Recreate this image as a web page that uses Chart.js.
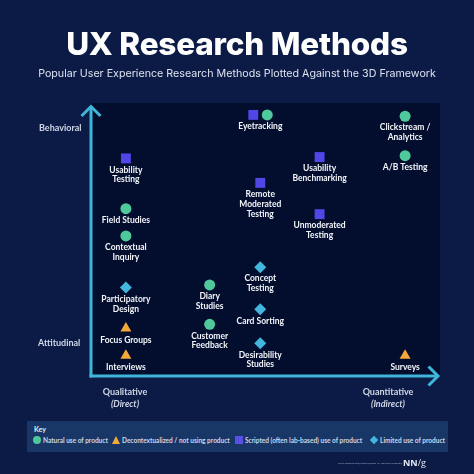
<!DOCTYPE html>
<html>
<head>
<meta charset="utf-8">
<script src="https://cdn.jsdelivr.net/npm/chart.js@4.4.1/dist/chart.umd.min.js"></script>
<style>
  html, body { margin: 0; padding: 0; }
  body { width: 474px; height: 474px; background: #0b1b46; position: relative; overflow: hidden; font-family: Lato, "Noto Sans", sans-serif; }
  #c { position: absolute; left: 0; top: 0; }
  .abs { position: absolute; white-space: nowrap; }
  #title { left: 0; width: 474px; top: 24px; text-align: center; font-family: Inter, sans-serif; font-weight: 800; font-size: 31.5px; color: #ffffff; line-height: 40px; letter-spacing: -0.2px; }
  #subtitle { left: 0; width: 474px; top: 65.5px; text-align: center; font-family: Inter, sans-serif; font-weight: 400; font-size: 10.7px; color: #dde2ee; line-height: 16px; }
  .axl { font-weight: 700; font-size: 9px; color: #cfd6e5; line-height: 12px; }
  .axc { text-align: center; width: 80px; }
  #key { left: 27px; top: 421px; width: 421px; height: 31px; background: #193766; }
  .keyt { font-size: 6.5px; color: #cdd5e6; line-height: 9px; font-weight: 400; }
  .kicon { position: absolute; }
</style>
</head>
<body>
<canvas id="c" width="474" height="474"></canvas>
<div id="title" class="abs">UX Research Methods</div>
<div id="subtitle" class="abs">Popular User Experience Research Methods Plotted Against the 3D Framework</div>

<div class="abs axl" style="left:39px; top:122px;">Behavioral</div>
<div class="abs axl" style="left:38px; top:337px;">Attitudinal</div>
<div class="abs axl axc" style="left:85px; top:386px;">Qualitative<br><i>(Direct)</i></div>
<div class="abs axl axc" style="left:348px; top:386px;">Quantitative<br><i>(Indirect)</i></div>

<div id="key" class="abs">
  <div class="abs" style="left:7px; top:4px; font-size:7px; font-weight:700; color:#e8ecf4; line-height:9px;">Key</div>
  <div class="kicon" style="left:6px; top:15px; width:8px; height:8px; border-radius:50%; background:#4fc99b;"></div>
  <div class="abs keyt" style="left:16px; top:14.5px; font-weight:700;">Natural use of product</div>
  <div class="kicon" style="left:85px; top:15px; width:0; height:0; border-left:4.5px solid transparent; border-right:4.5px solid transparent; border-bottom:8px solid #f4a83a;"></div>
  <div class="abs keyt" style="left:95px; top:14.5px; font-weight:700;">Decontextualized / not using product</div>
  <div class="kicon" style="left:208px; top:15px; width:8px; height:8px; background:#5a50e6;"></div>
  <div class="abs keyt" style="left:218px; top:14.5px; font-weight:700;">Scripted (often lab-based) use of product</div>
  <div class="kicon" style="left:344px; top:15.5px; width:6px; height:6px; background:#42b6dc; transform:rotate(45deg);"></div>
  <div class="abs keyt" style="left:353px; top:14.5px; font-weight:700;">Limited use of product</div>
</div>

<div class="abs" style="left:338px; top:461px; font-size:2.6px; color:#9aa5bd; line-height:4px;">www.nngroup.com/articles/guide-ux-research-methods/</div>
<div class="abs" style="left:403px; top:457px; font-size:9px; color:#e6eaf2; line-height:11px; font-weight:700; font-family:'Open Sans', sans-serif;">NN<span style="font-weight:400;">/g</span></div>

<script>
// ---- Data (scale 0-100 on both axes) ----
const naturalNames = ["Field Studies", "Contextual\nInquiry", "Diary\nStudies", "Customer\nFeedback", "Eyetracking", "Clickstream /\nAnalytics", "A/B Testing"];
const naturalX = [10, 10, 34, 34, 50.5, 90, 90];
const naturalY = [61.5, 51.5, 33.5, 19, 96, 95.5, 81];

const decontextNames = ["Focus Groups", "Interviews", "Surveys"];
const decontextX = [10, 10, 90];
const decontextY = [17.5, 7.5, 7.5];

const scriptedNames = ["Usability\nTesting", "Eyetracking", "Remote\nModerated\nTesting", "Usability\nBenchmarking", "Unmoderated\nTesting"];
const scriptedX = [10, 46.5, 48.5, 65.5, 65.5];
const scriptedY = [80, 96, 71, 80.5, 59.5];

const limitedNames = ["Participatory\nDesign", "Concept\nTesting", "Card Sorting", "Desirability\nStudies"];
const limitedX = [10, 48.5, 48.5, 48.5];
const limitedY = [32.5, 40, 24.5, 12];

function pts(xs, ys, names) { return xs.map((x, i) => ({ x: x, y: ys[i], name: names[i] })); }

const panelPlugin = {
  id: 'panel',
  beforeDatasetsDraw(chart) {
    const a = chart.chartArea;
    const ctx = chart.ctx;
    ctx.save();
    ctx.fillStyle = '#030e2e';
    ctx.fillRect(a.left, a.top - 1, a.right - a.left, a.bottom - a.top + 1);
    ctx.strokeStyle = '#3fb5d9';
    ctx.lineWidth = 3;
    ctx.lineCap = 'butt';
    ctx.lineJoin = 'miter';
    // y axis
    ctx.beginPath();
    ctx.moveTo(a.left, a.bottom + 1.5);
    ctx.lineTo(a.left, a.top + 2);
    ctx.stroke();
    ctx.beginPath();
    ctx.moveTo(a.left - 9.5, a.top + 12);
    ctx.lineTo(a.left, a.top + 2.5);
    ctx.lineTo(a.left + 9.5, a.top + 12);
    ctx.stroke();
    // x axis
    ctx.beginPath();
    ctx.moveTo(a.left - 1.5, a.bottom);
    ctx.lineTo(a.right - 2, a.bottom);
    ctx.stroke();
    ctx.beginPath();
    ctx.moveTo(a.right - 11.5, a.bottom - 9.5);
    ctx.lineTo(a.right - 2, a.bottom);
    ctx.lineTo(a.right - 11.5, a.bottom + 9.5);
    ctx.stroke();
    ctx.restore();
  }
};

const labelPlugin = {
  id: 'ptlabels',
  afterDatasetsDraw(chart) {
    const ctx = chart.ctx;
    const groups = {};
    chart.data.datasets.forEach((ds, di) => {
      const meta = chart.getDatasetMeta(di);
      meta.data.forEach((el, i) => {
        const name = ds.data[i].name;
        if (!groups[name]) groups[name] = { xs: [], y: el.y };
        groups[name].xs.push(el.x);
        groups[name].y = Math.max(groups[name].y, el.y);
      });
    });
    ctx.save();
    ctx.fillStyle = '#f3f5fa';
    ctx.font = '700 8.5px Lato, "Noto Sans", sans-serif';
    ctx.textAlign = 'center';
    ctx.textBaseline = 'middle';
    Object.keys(groups).forEach(name => {
      const g = groups[name];
      const x = g.xs.reduce((s, v) => s + v, 0) / g.xs.length;
      name.split('\n').forEach((line, li) => {
        ctx.fillText(line, x, g.y + 11.5 + li * 9.8);
      });
    });
    ctx.restore();
  }
};

new Chart(document.getElementById('c'), {
  type: 'scatter',
  data: {
    datasets: [
      { label: 'Natural use of product', data: pts(naturalX, naturalY, naturalNames), pointStyle: 'circle', pointRadius: 5.5, backgroundColor: '#4fc99b', borderWidth: 0 },
      { label: 'Decontextualized / not using product', data: pts(decontextX, decontextY, decontextNames), pointStyle: 'triangle', pointRadius: 6.3, backgroundColor: '#f4a83a', borderWidth: 0 },
      { label: 'Scripted (often lab-based) use of product', data: pts(scriptedX, scriptedY, scriptedNames), pointStyle: 'rect', pointRadius: 7, backgroundColor: '#5146e6', borderWidth: 0 },
      { label: 'Limited use of product', data: pts(limitedX, limitedY, limitedNames), pointStyle: 'rectRot', pointRadius: 6, backgroundColor: '#42b6dc', borderWidth: 0 }
    ]
  },
  options: {
    responsive: false,
    animation: false,
    layout: { padding: { left: 91, top: 104, right: 34, bottom: 98 } },
    scales: {
      x: { type: 'linear', min: 0, max: 100, display: false },
      y: { type: 'linear', min: 0, max: 100, display: false }
    },
    plugins: { legend: { display: false }, tooltip: { enabled: false }, title: { display: false } },
    events: []
  },
  plugins: [panelPlugin, labelPlugin]
});
</script>
</body>
</html>
